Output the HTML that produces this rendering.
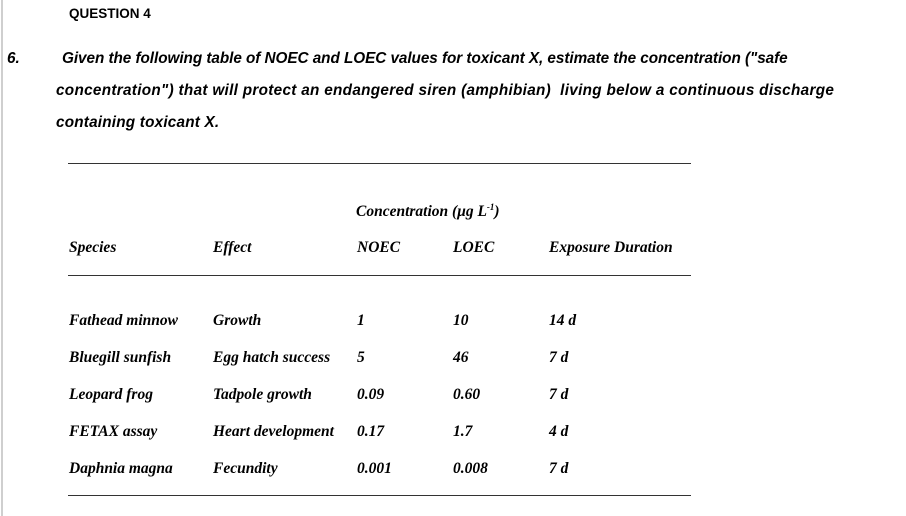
<!DOCTYPE html>
<html><head><meta charset="utf-8"><style>
body{margin:0;width:906px;height:516px;background:#fff;position:relative;overflow:hidden;color:#000}
.a{position:absolute;white-space:nowrap}
.s{font-family:"Liberation Sans",sans-serif;font-weight:bold;font-style:italic;font-size:15.3px}
.t{font-family:"Liberation Serif",serif;font-style:italic;font-weight:bold;font-size:15.5px}
.r{position:absolute;left:68px;width:623px;height:1px;background:#333}
</style></head><body>
<div style="position:absolute;left:1px;top:0;width:2px;height:516px;background:#cfcfcf"></div>
<div class="a" style="left:69px;top:6px;font-family:'Liberation Sans',sans-serif;font-weight:bold;font-size:13.5px">QUESTION 4</div>
<div class="a s" style="left:7px;top:50px">6.</div>
<div class="a s" style="left:62px;top:50px;letter-spacing:-0.05px">Given the following table of NOEC and LOEC values for toxicant X, estimate the concentration ("safe</div>
<div class="a s" style="left:56px;top:82px;letter-spacing:0.3px">concentration") that will protect an endangered siren (amphibian)&nbsp; living below a continuous discharge</div>
<div class="a s" style="left:56px;top:114px;letter-spacing:0.2px">containing toxicant X.</div>
<div class="r" style="top:163px"></div>
<div class="a t" style="left:356px;top:202px">Concentration (μg L<sup style="font-size:9px">-1</sup>)</div>
<div class="a t" style="left:69px;top:239px">Species</div>
<div class="a t" style="left:213px;top:239px">Effect</div>
<div class="a t" style="left:357px;top:239px">NOEC</div>
<div class="a t" style="left:453px;top:239px">LOEC</div>
<div class="a t" style="left:549px;top:239px">Exposure Duration</div>
<div class="r" style="top:275px"></div>
<div id="rows"></div>
<div class="r" style="top:495px"></div>
<script>
const species=["Fathead minnow","Bluegill sunfish","Leopard frog","FETAX assay","Daphnia magna"];
const effects=["Growth","Egg hatch success","Tadpole growth","Heart development","Fecundity"];
const noec=["1","5","0.09","0.17","0.001"];
const loec=["10","46","0.60","1.7","0.008"];
const durations=["14 d","7 d","7 d","4 d","7 d"];
const cols=[[species,69,'species-cell'],[effects,213,'effect-cell'],[noec,357,'noec-cell'],[loec,453,'loec-cell'],[durations,549,'duration-cell']];
const root=document.getElementById('rows');
for(let i=0;i<species.length;i++){
  for(const [arr,x,nm] of cols){
    const d=document.createElement('div');
    d.className='a t';
    d.style.left=x+'px';
    d.style.top=(312+i*37)+'px';
    d.textContent=arr[i];
    
    
    root.appendChild(d);
  }
}
</script>
</body></html>
